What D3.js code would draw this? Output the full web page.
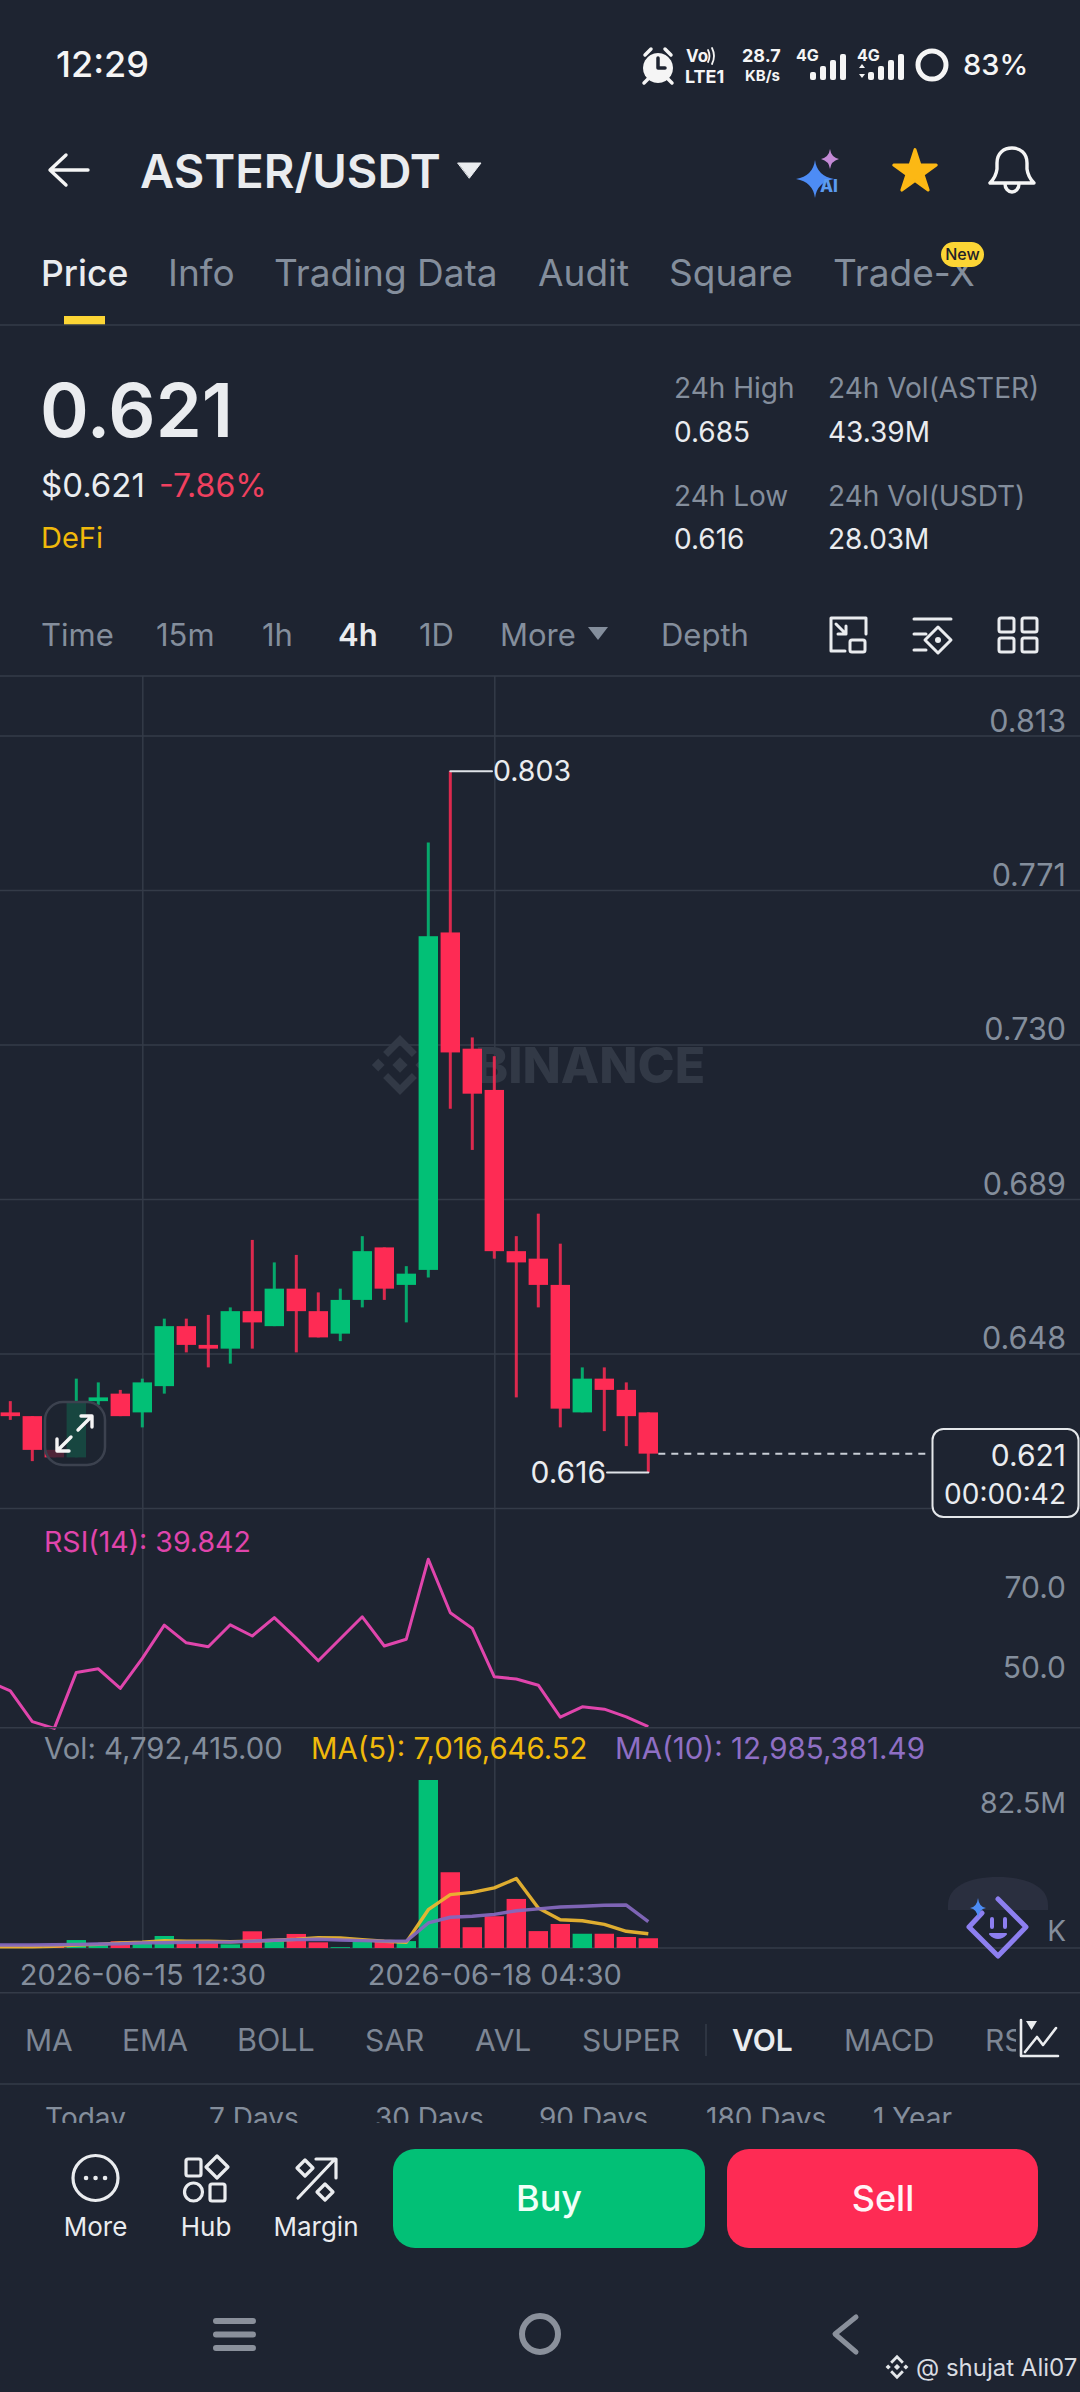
<!DOCTYPE html>
<html>
<head>
<meta charset="utf-8">
<title>ASTER/USDT</title>
<script src="https://cdn.jsdelivr.net/npm/d3@7"></script>
<style>
  html, body { margin: 0; padding: 0; background: #1e2431; }
  svg { display: block; }
  text { font-family: Inter, "Noto Sans", sans-serif; }
</style>
</head>
<body>
<div id="parent"></div>
<script>
// 4h candles (first one is 2026-06-14 12:30)
var opens  = [.632,.631,.622,.620,.635,.637,.632,.639,.655,.650,.649,.659,.655,.665,.659,.653,.662,.676,.666,.670,.760,.729,.718,.675,.673,.666,.632,.641,.638,.632];
var highs  = [.635,.631,.622,.641,.640,.638,.641,.657,.657,.658,.660,.678,.672,.674,.664,.665,.679,.676,.671,.784,.803,.732,.727,.679,.685,.677,.644,.644,.640,.632];
var lows   = [.630,.619,.620,.620,.634,.631,.628,.637,.648,.644,.645,.649,.655,.648,.652,.651,.660,.662,.656,.668,.713,.702,.673,.636,.660,.628,.632,.627,.623,.616];
var closes = [.631,.622,.620,.635,.636,.631,.640,.655,.650,.649,.659,.656,.665,.659,.652,.662,.675,.665,.669,.759,.728,.717,.675,.672,.666,.633,.641,.638,.631,.621];
// volume in millions
var volumes = [.7,.7,.7,3.9,2.1,3.3,3.3,5.9,3.3,2.9,1.8,8.2,3.3,6.9,2.8,.4,3.4,3.1,3.4,82.5,37.2,10.2,15.6,24.1,8.3,11.8,7,7,5.4,4.79];

// these three start one candle earlier, off the left edge
var rsiValues = [51.1,48.8,41.1,39.4,53.4,54.3,49.4,56.9,65.2,60.8,59.8,65.3,62.5,67.1,61.9,56.3,61.8,67.3,60,61.7,81.7,68.3,64.4,52.3,51.75,50.2,42.2,44.8,44.2,42.3,39.842];
var ma5Values = [.5,.65,.65,.8,1.5,1.8,2.5,2.9,3.6,3.4,3.3,3.1,3.4,3.8,4.3,5.1,4.9,4.1,3.3,2.8,18.8,26.2,27.3,29.5,34.1,19.6,13.9,13.4,11.6,8.2,7.017];
var ma10Values = [1.5,1.5,1.5,1.6,1.8,2,2.1,2.5,2.6,2.8,2.9,2.9,3.4,3.8,4.1,4.3,3.9,3.6,3.4,3.4,12.3,15.1,15.6,16.5,18.3,19.2,20.1,20.5,21,21.1,12.985];

var priceTicks = [.8125,.7713,.7301,.6889,.6477,.6065];
var rsiTicks = [70,50];
var volTicks = [82.5];
var dateTicks = ["2026-06-15 12:30","2026-06-18 04:30"];

var GREEN = "#02c076", RED = "#fe2b54", GREY = "#848e9c", WHITE = "#eaecef", GRID = "#343b48", BG = "#1e2431", PINK = "#e045ac";

var svg = d3.select("#parent").append("svg").attr("width", 1080).attr("height", 2392).attr("viewBox", "0 0 1080 2392");
svg.append("rect").attr("width", 1080).attr("height", 2392).attr("fill", BG);

function t(x, y, str, size, fill, weight, anchor, parent) {
  return (parent || svg).append("text").attr("x", x).attr("y", y).attr("dy", ".36em")
    .attr("font-size", size).attr("fill", fill || WHITE).attr("font-weight", weight || 400)
    .attr("text-anchor", anchor || "start").text(str);
}
function p(d, fill, stroke, sw, parent) {
  return (parent || svg).append("path").attr("d", d).attr("fill", fill || "none")
    .attr("stroke", stroke || "none").attr("stroke-width", sw || 0)
    .attr("stroke-linecap", "round").attr("stroke-linejoin", "round");
}
function hline(y, x0, x1) {
  svg.append("line").attr("x1", x0 || 0).attr("x2", x1 || 1080).attr("y1", y).attr("y2", y).attr("stroke", GRID).attr("stroke-width", 1.5);
}
function diamond(cx, cy, r) { return "M" + (cx - r) + "," + cy + "L" + cx + "," + (cy - r) + "L" + (cx + r) + "," + cy + "L" + cx + "," + (cy + r) + "Z"; }
function binanceLogo(cx, cy, s, color) {
  var g = svg.append("g");
  p(diamond(cx, cy, s * .24), color, null, 0, g);
  p(diamond(cx - s * .68, cy, s * .2), color, null, 0, g);
  p(diamond(cx + s * .68, cy, s * .2), color, null, 0, g);
  p("M" + (cx - s * .45) + "," + (cy - s * .33) + "L" + cx + "," + (cy - s * .78) + "L" + (cx + s * .45) + "," + (cy - s * .33), "none", color, s * .22, g).attr("stroke-linecap", "butt").attr("stroke-linejoin", "miter");
  p("M" + (cx - s * .45) + "," + (cy + s * .33) + "L" + cx + "," + (cy + s * .78) + "L" + (cx + s * .45) + "," + (cy + s * .33), "none", color, s * .22, g).attr("stroke-linecap", "butt").attr("stroke-linejoin", "miter");
}

// ---- status bar
t(56, 64, "12:29", 36, "#f5f5f5", 500);
p("M658,53a15,15 0 1,0 .01,0Z", "#f5f5f5");
p("M658,58v10h7", "none", BG, 3.5);
p("M645,55l6,-6M671,55l-6,-6M648,79l-4,4M668,79l4,4", "none", "#f5f5f5", 3.5);
t(686, 56, "Vo", 17, "#f5f5f5", 700);
p("M708,50q3,6 0,12M712,48q4,8 0,16", "none", "#f5f5f5", 1.8);
t(685, 77, "LTE1", 18, "#f5f5f5", 700);
t(742, 56, "28.7", 18, "#f5f5f5", 700);
t(745, 76, "KB/s", 15, "#f5f5f5", 700);
t(796, 55, "4G", 16, "#f5f5f5", 700);
t(857, 55, "4G", 16, "#f5f5f5", 700);
[[810, 72], [820, 66], [830, 60], [840, 54]].forEach(function (b) { svg.append("rect").attr("x", b[0]).attr("y", b[1]).attr("width", 6).attr("height", 80 - b[1]).attr("rx", 2).attr("fill", "#f5f5f5"); });
[[868, 72], [878, 66], [888, 60], [898, 54]].forEach(function (b) { svg.append("rect").attr("x", b[0]).attr("y", b[1]).attr("width", 6).attr("height", 80 - b[1]).attr("rx", 2).attr("fill", "#f5f5f5"); });
p("M859,68l3,-4l3,4ZM859,74l3,4l3,-4Z", "#f5f5f5");
svg.append("circle").attr("cx", 932).attr("cy", 65).attr("r", 14).attr("fill", "none").attr("stroke", "#f5f5f5").attr("stroke-width", 5);
t(963, 65, "83%", 29, "#f5f5f5", 500);

// ---- title row
p("M88,170H52M66,155L50,170L66,185", "none", "#f5f5f5", 3.4);
t(140, 171, "ASTER/USDT", 47, WHITE, 600);
p("M458,163H481L469.5,178Z", WHITE, WHITE, 1);
p("M815,160q2,16 19,19q-17,3 -19,19q-2,-16 -19,-19q17,-3 19,-19Z", "#4d8cf5");
p("M830,149q1,8 9,10q-8,2 -9,10q-1,-8 -9,-10q8,-2 9,-10Z", "#c48ad6");
t(820, 186, "AI", 17, "#5b9bf0", 800);
svg.append("path").attr("d", d3.symbol().type(d3.symbolStar).size(560)).attr("transform", "translate(915,172)").attr("fill", "#fcb814").attr("stroke", "#fcb814").attr("stroke-width", 3).attr("stroke-linejoin", "round");
p("M990,183h44q-6,-6 -7,-14v-6c0,-10 -7,-15 -15,-15s-15,5 -15,15v6q-1,8 -7,14ZM1005,184a7,8 0 0,0 14,0", "none", "#f5f5f5", 3.4);

// ---- tabs
t(41, 273, "Price", 35.5, WHITE, 500);
t(168, 273, "Info", 37, GREY);
t(274, 273, "Trading Data", 37, GREY);
t(538, 273, "Audit", 37, GREY);
t(669, 273, "Square", 37, GREY);
t(833, 273, "Trade-X", 37, GREY);
svg.append("rect").attr("x", 941).attr("y", 242).attr("width", 43).attr("height", 25).attr("rx", 12.5).attr("fill", "#fcd535");
t(962.5, 254, "New", 16, "#1e2329", 500, "middle");
svg.append("rect").attr("x", 64).attr("y", 316).attr("width", 41).attr("height", 9).attr("fill", "#fcd535");
hline(325);

// ---- price header
t(40, 410, "0.621", 74, WHITE, 600);
t(41, 485, "$0.621", 33, WHITE);
t(159, 485, "-7.86%", 32, "#f0405f");
t(41, 538, "DeFi", 29, "#f0b90b");
t(674, 388, "24h High", 28, GREY);
t(674, 432, "0.685", 28, WHITE);
t(674, 496, "24h Low", 28, GREY);
t(674, 539, "0.616", 28, WHITE);
t(828, 388, "24h Vol(ASTER)", 28, GREY);
t(828, 432, "43.39M", 28, WHITE);
t(828, 496, "24h Vol(USDT)", 28, GREY);
t(828, 539, "28.03M", 28, WHITE);

// ---- interval row
t(41, 635, "Time", 31, GREY);
t(156, 635, "15m", 31, GREY);
t(262, 635, "1h", 31, GREY);
t(338, 635, "4h", 31, WHITE, 600);
t(419, 635, "1D", 31, GREY);
t(500, 635, "More", 31, GREY);
p("M588,627H608L598,640Z", GREY);
t(661, 635, "Depth", 31, GREY);
p("M848,618H831V651H845M848,618H866V634M836,624L846,634M846,626V634H838", "none", WHITE, 3);
svg.append("rect").attr("x", 850).attr("y", 640).attr("width", 15).attr("height", 12).attr("rx", 2).attr("fill", "none").attr("stroke", WHITE).attr("stroke-width", 3);
p("M914,619H951M914,634H926M914,650H926", "none", WHITE, 3);
p(diamond(938, 640, 13), "none", WHITE, 3);
svg.append("circle").attr("cx", 938).attr("cy", 640).attr("r", 3).attr("fill", WHITE);
[[999, 618], [1022, 618], [999, 638], [1022, 638]].forEach(function (c) { svg.append("rect").attr("x", c[0]).attr("y", c[1]).attr("width", 15).attr("height", 14).attr("rx", 2).attr("fill", "none").attr("stroke", WHITE).attr("stroke-width", 3); });
hline(676);

// ---- scales
var parse = d3.timeParse("%Y-%m-%d %H:%M");
var fmtDate = d3.timeFormat("%Y-%m-%d %H:%M");
var first = parse("2026-06-14 12:30");
function timeAt(i) { return d3.timeHour.offset(first, 4 * i); }

var x = d3.scaleTime().domain(dateTicks.map(parse)).range([142.3, 494.3]);
var y = d3.scaleLinear().domain([.6065, .8125]).range([1508, 735.6]);
var yRsi = d3.scaleLinear().domain([30, 90]).range([1766, 1526]);
var yVol = d3.scaleLinear().domain([0, 82.5]).range([1948, 1780]);

var candles = opens.map(function (o, i) {
  return { time: timeAt(i), open: o, high: highs[i], low: lows[i], close: closes[i], vol: volumes[i] };
});
function candleColor(d) { return d.close > d.open ? GREEN : RED; }

// vertical grid, date axis
var xAxis = d3.axisBottom(x).tickValues(dateTicks.map(parse)).tickFormat(fmtDate).tickSizeOuter(0).tickSize(-1299).tickPadding(12);
var xg = svg.append("g").attr("transform", "translate(0,1975)").call(xAxis);
xg.select(".domain").remove();
xg.selectAll("line").attr("stroke", GRID).attr("stroke-width", 1.5).attr("y2", -1299).attr("y1", -27);
xg.selectAll("text").attr("y", 0).attr("dy", ".36em").attr("font-size", 29).attr("fill", GREY).attr("font-family", "Inter");

// price axis, the lowest line has its label hidden by the price box
var yAxis = d3.axisRight(y).tickValues(priceTicks).tickFormat(function (d) { return d < .61 ? "" : d3.format(".3f")(d); }).tickSize(1080);
var yg = svg.append("g").call(yAxis);
yg.select(".domain").remove();
yg.selectAll("line").attr("stroke", GRID).attr("stroke-width", 1.5);
yg.selectAll("text").attr("x", 1066).attr("dy", "-.15em").attr("text-anchor", "end").attr("font-size", 30.5).attr("fill", GREY).attr("font-family", "Inter");

// watermark sits under the candles
binanceLogo(400, 1065, 32, "#323946");
t(475, 1065, "BINANCE", 50, "#323946", 800);

// ---- candles
var cg = svg.append("g");
cg.selectAll("line").data(candles).enter().append("line")
  .attr("x1", function (d) { return x(d.time); }).attr("x2", function (d) { return x(d.time); })
  .attr("y1", function (d) { return y(d.high); }).attr("y2", function (d) { return y(d.low); })
  .attr("stroke", candleColor).attr("stroke-width", 3).attr("opacity", .85);
cg.selectAll("rect").data(candles).enter().append("rect")
  .attr("x", function (d) { return x(d.time) - 9.7; }).attr("width", 19.4)
  .attr("y", function (d) { return y(Math.max(d.open, d.close)); })
  .attr("height", function (d) { return Math.max(3, Math.abs(y(d.open) - y(d.close))); })
  .attr("fill", candleColor);

// high / low leaders
var hi = candles[20], lo = candles[29];
p("M" + x(hi.time) + "," + y(hi.high) + "H492", "none", "#dfe3e8", 2);
t(493, y(hi.high), d3.format(".3f")(hi.high), 28.5, WHITE);
p("M" + x(lo.time) + "," + y(lo.low) + "H607", "none", "#dfe3e8", 2);
t(606, y(lo.low), d3.format(".3f")(lo.low), 30, WHITE, 400, "end");

// current price
svg.append("line").attr("x1", x(lo.time) + 10).attr("x2", 930).attr("y1", y(lo.close)).attr("y2", y(lo.close))
  .attr("stroke", "#c9ced6").attr("stroke-width", 2).attr("stroke-dasharray", "7 6");
svg.append("rect").attr("x", 932.5).attr("y", 1429).attr("width", 146).attr("height", 88).attr("rx", 11)
  .attr("fill", BG).attr("stroke", "#e4e7ea").attr("stroke-width", 2);
t(1066, 1455, d3.format(".3f")(lo.close), 30, WHITE, 400, "end");
t(1066, 1494, "00:00:42", 28, WHITE, 400, "end");

// expand button over the candles
svg.append("rect").attr("x", 45).attr("y", 1402).attr("width", 60).attr("height", 63).attr("rx", 18)
  .attr("fill", BG).attr("fill-opacity", .78).attr("stroke", "#3c424f").attr("stroke-width", 2.5);
p("M78,1430L91,1417M81,1416H92V1427", "none", "#f5f5f5", 3.4);
p("M71,1437L58,1450M57,1439V1451H69", "none", "#f5f5f5", 3.4);

// ---- RSI
t(44, 1542, "RSI(14): " + d3.format(".3f")(rsiValues[rsiValues.length - 1]), 28.5, PINK);
var rsiAxis = d3.axisRight(yRsi).tickValues(rsiTicks).tickFormat(d3.format(".1f")).tickSize(0);
var rg = svg.append("g").call(rsiAxis);
rg.select(".domain").remove();
rg.selectAll("text").attr("x", 1066).attr("dy", "-.3em").attr("text-anchor", "end").attr("font-size", 30).attr("fill", GREY).attr("font-family", "Inter");
function lineOf(scale) {
  return d3.line().x(function (d, i) { return x(timeAt(i - 1)); }).y(function (d) { return scale(d); });
}
svg.append("path").datum(rsiValues).attr("d", lineOf(yRsi)).attr("fill", "none").attr("stroke", PINK).attr("stroke-width", 3).attr("stroke-linejoin", "round");
hline(1727.7);

// ---- volume
t(44, 1748, "Vol: 4,792,415.00", 29.3, GREY);
t(311, 1748, "MA(5): 7,016,646.52", 29.3, "#f0b90b");
t(615, 1748, "MA(10): 12,985,381.49", 29.5, "#8f6fc4");
var volAxis = d3.axisRight(yVol).tickValues(volTicks).tickFormat(function (d) { return d + "M"; }).tickSize(0);
var vg = svg.append("g").call(volAxis);
vg.select(".domain").remove();
vg.selectAll("text").attr("x", 1066).attr("dy", "1.15em").attr("text-anchor", "end").attr("font-size", 28.5).attr("fill", GREY).attr("font-family", "Inter");
t(1066, 1931, "K", 28, GREY, 400, "end");
hline(1948);
svg.append("g").selectAll("rect").data(candles).enter().append("rect")
  .attr("x", function (d) { return x(d.time) - 9.7; }).attr("width", 19.4)
  .attr("y", function (d) { return yVol(d.vol); })
  .attr("height", function (d) { return yVol(0) - yVol(d.vol); })
  .attr("fill", candleColor);
svg.append("path").datum(ma5Values).attr("d", lineOf(yVol)).attr("fill", "none").attr("stroke", "#eab530").attr("stroke-width", 3.4).attr("stroke-linejoin", "round").attr("opacity", .95);
svg.append("path").datum(ma10Values).attr("d", lineOf(yVol)).attr("fill", "none").attr("stroke", "#8468bd").attr("stroke-width", 3.4).attr("stroke-linejoin", "round").attr("opacity", .95);

// bot button
p("M948,1910v-5c0,-18 20,-28 50,-28s50,10 50,28v5Z", "#2a2f3f");
svg.append("rect").attr("x", 948).attr("y", 1905).attr("width", 99).attr("height", 5).attr("fill", "#2a2f3f");
p("M998,1899L1026,1927L998,1956L969,1927L982,1913", "none", "#8d7ff0", 5);
p("M978,1898q1,9 8,10q-7,1 -8,10q-1,-9 -8,-10q7,-1 8,-10Z", "#4d8cf5");
p("M992,1919v8M1005,1919v8", "none", "#8d7ff0", 4);
p("M990,1934q8,8 16,0Z", "#8d7ff0", "#8d7ff0", 2);

hline(1992.7);

// ---- indicator row
var indicatorGrey = "#7d8694";
t(25, 2040, "MA", 30, indicatorGrey);
t(122, 2040, "EMA", 30, indicatorGrey);
t(237, 2040, "BOLL", 30.5, indicatorGrey);
t(365, 2040, "SAR", 30, indicatorGrey);
t(475, 2040, "AVL", 30, indicatorGrey);
t(582, 2040, "SUPER", 30, indicatorGrey);
svg.append("line").attr("x1", 706).attr("x2", 706).attr("y1", 2024).attr("y2", 2056).attr("stroke", GRID).attr("stroke-width", 1.5);
t(732, 2040, "VOL", 30, WHITE, 600);
t(844, 2040, "MACD", 30, indicatorGrey);
t(985, 2040, "RSI", 30, indicatorGrey);
svg.append("rect").attr("x", 1016).attr("y", 2015).attr("width", 64).attr("height", 50).attr("fill", BG);
p("M1021,2020V2056H1058", "none", WHITE, 2.6);
p("M1025,2052L1037,2037L1043,2045L1056,2028", "none", WHITE, 2.6);
p("M1026,2021H1037L1031.5,2030Z", WHITE);
hline(2084);

// ---- range row, cut off by the bottom bar
var clip = svg.append("defs").append("clipPath").attr("id", "rangeClip");
clip.append("rect").attr("x", 0).attr("y", 2090).attr("width", 1080).attr("height", 33);
var rg2 = svg.append("g").attr("clip-path", "url(#rangeClip)");
t(45, 2118, "Today", 28, GREY, 400, "start", rg2);
t(209, 2118, "7 Days", 28, GREY, 400, "start", rg2);
t(375, 2118, "30 Days", 28, GREY, 400, "start", rg2);
t(539, 2118, "90 Days", 28, GREY, 400, "start", rg2);
t(706, 2118, "180 Days", 28, GREY, 400, "start", rg2);
t(873, 2118, "1 Year", 28, GREY, 400, "start", rg2);

// ---- bottom actions
svg.append("circle").attr("cx", 95.5).attr("cy", 2178).attr("r", 22.5).attr("fill", "none").attr("stroke", WHITE).attr("stroke-width", 3.2);
p("M86,2178h.1M95.5,2178h.1M105,2178h.1", "none", WHITE, 4.5);
t(95.5, 2227, "More", 26, WHITE, 400, "middle");
svg.append("rect").attr("x", 186).attr("y", 2159).attr("width", 15).attr("height", 17).attr("rx", 2).attr("fill", "none").attr("stroke", WHITE).attr("stroke-width", 3.2);
p(diamond(217, 2167, 11), "none", WHITE, 3.2);
svg.append("circle").attr("cx", 193.5).attr("cy", 2192).attr("r", 9).attr("fill", "none").attr("stroke", WHITE).attr("stroke-width", 3.2);
svg.append("rect").attr("x", 210).attr("y", 2184).attr("width", 15).attr("height", 17).attr("rx", 2).attr("fill", "none").attr("stroke", WHITE).attr("stroke-width", 3.2);
t(206, 2227, "Hub", 26, WHITE, 400, "middle");
p(diamond(305, 2168, 8), "none", WHITE, 3.2);
p(diamond(325, 2192, 8), "none", WHITE, 3.2);
p("M298,2198L335,2159M316,2159H336V2178", "none", WHITE, 3.2);
t(316, 2227, "Margin", 26, WHITE, 400, "middle");
svg.append("rect").attr("x", 393).attr("y", 2149).attr("width", 312).attr("height", 99).attr("rx", 22).attr("fill", GREEN);
t(549, 2198, "Buy", 36, "#f0fff8", 500, "middle");
svg.append("rect").attr("x", 727).attr("y", 2149).attr("width", 311).attr("height", 99).attr("rx", 22).attr("fill", RED);
t(883, 2198, "Sell", 36, "#fff4f6", 500, "middle");

// ---- android nav bar
p("M216,2321H253M216,2334.5H253M216,2348H253", "none", "#8a909b", 6);
svg.append("circle").attr("cx", 540).attr("cy", 2334).attr("r", 18).attr("fill", "none").attr("stroke", "#8a909b").attr("stroke-width", 6);
p("M856,2317L835,2334L856,2352", "none", "#8a909b", 5);
binanceLogo(897, 2367, 13, "#e4e7ea");
t(916, 2367, "@ shujat Ali07", 24, "#d9dce1");
</script>
</body>
</html>
